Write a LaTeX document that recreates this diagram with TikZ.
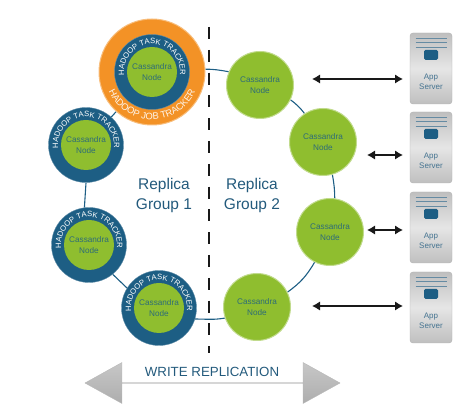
\documentclass[tikz,border=0pt]{standalone}
\usepackage{fontspec}
\setmainfont{Liberation Sans}
\usepackage{xcolor}
\usepackage{tikz}
\usetikzlibrary{arrows.meta,positioning,calc,backgrounds,decorations.text,shapes.arrows}
\definecolor{ringblue}{HTML}{1D5E84}
\definecolor{leafgreen}{HTML}{8FBE2F}
\definecolor{trackorange}{HTML}{F39226}
\definecolor{labelblue}{HTML}{235A7C}
\tikzset{
  cass/.style={circle,fill=leafgreen,minimum size=50pt,inner sep=0pt,align=center,font=\fontsize{8.2}{10.5}\selectfont,text=ringblue!85!leafgreen},
  cassr/.style={cass,draw=leafgreen!55!white,line width=1pt,minimum size=67pt},
  ring/.style={circle,fill=ringblue,draw=ringblue!70!white,minimum size=75pt,inner sep=0pt},
  jobring/.style={circle,fill=trackorange,draw=trackorange!60!white,line width=1pt,minimum size=106pt,inner sep=0pt},
  wire/.style={ringblue,line width=1.1pt},
  sync/.style={{Latex[length=8pt,width=9.5pt]}-{Latex[length=8pt,width=9.5pt]},line width=1.8pt,black!90},
  srv/.style={rectangle,rounded corners=3pt,minimum width=42pt,minimum height=71pt,inner sep=0pt,draw=black!30,top color=black!25,bottom color=black!25,middle color=black!10},
  srvlabel/.style={align=center,font=\fontsize{8}{10.5}\selectfont,text=labelblue!85!white},
  srvbar/.style={labelblue!70!white,line width=0.8pt},
  grp/.style={align=center,font=\fontsize{15.5}{20}\selectfont,text=labelblue},
}
\newcommand{\tasktext}[1]{
  \path[decorate,decoration={text along path,text align=center,
    text={|\fontsize{7.7}{9}\selectfont\color{white}|HADOOP TASK TRACKER}}]
    ($(#1)+(200:28)$) arc[start angle=200,end angle=-20,radius=28];
}

\begin{document}
\begin{tikzpicture}[x=1pt,y=1pt]
  \useasboundingbox (0,0) rectangle (474,420);

  % group 1
  \node[jobring] (jt) at (152,348){};
  \node[ring] (t1) at (152,348){};
  \node[ring] (t2) at (86,275){};
  \node[ring] (t3) at (89,175){};
  \node[ring] (t4) at (159,112){};
  \node[cass] (n1) at (t1){Cassandra\\Node};
  \node[cass] (n2) at (t2){Cassandra\\Node};
  \node[cass] (n3) at (t3){Cassandra\\Node};
  \node[cass] (n4) at (t4){Cassandra\\Node};
  \foreach \t in {t1,t2,t3,t4} {\tasktext{\t}}
  \path[decorate,decoration={text along path,text align=center,
    text={|\fontsize{9.4}{11}\selectfont\color{white!90!trackorange}|HADOOP JOB TRACKER}}]
    ($(jt)+(192:47.5)$) arc[start angle=192,end angle=348,radius=47.5];

  % group 2
  \node[cassr] (r1) at (260,335){Cassandra\\Node};
  \node[cassr] (r2) at (323,278){Cassandra\\Node};
  \node[cassr] (r3) at (330,188){Cassandra\\Node};
  \node[cassr] (r4) at (257,113){Cassandra\\Node};

  \begin{pgfonlayer}{background}
    \draw[wire] (jt)--(t2);
    \draw[wire] (t2.-90)--(t3.97);
    \draw[wire] (t3.-51)--(t4.148);
    \draw[wire] (t4.-17) to[out=0,in=190] (r4.199);
    \draw[wire] (r4.26) to[bend right=12] (r3.-117);
    \draw[wire] (r3.82) to[bend right=5] (r2.-74);
    \draw[wire] (r2.123) to[bend right=8] (r1.-26);
    \draw[wire] (jt.3) to[out=0,in=170] (r1.157);
  \end{pgfonlayer}

  \node[grp] (g1) at (164,225){Replica\\Group 1};
  \node[grp] (g2) at (252,225){Replica\\Group 2};

  \coordinate (dtop) at (209,393);
  \coordinate (dbot) at (209,67);
  \draw[line width=2.6pt,black!90,dash pattern=on 12pt off 10.8pt] (dtop)--(dbot);

  % app servers
  \foreach \i/\y/\xa/\ya in {1/351.5/312/341,2/272.5/367/265,3/192.5/367/190,4/112.5/312/114} {
    \node[srv] (s\i) at (431,\y){};
    \draw[srvbar] ([shift={(-15.5pt,-5.5pt)}]s\i.north)--([shift={(15.5pt,-5.5pt)}]s\i.north);
    \draw[srvbar] ([shift={(-15.5pt,-10pt)}]s\i.north)--([shift={(15.5pt,-10pt)}]s\i.north);
    \draw[srvbar] ([shift={(-15.5pt,-14.5pt)}]s\i.north)--([shift={(15.5pt,-14.5pt)}]s\i.north);
    \node[rectangle,rounded corners=1.5pt,fill=ringblue,minimum width=14pt,minimum height=10pt,inner sep=0pt] (k\i) at ([yshift=-22pt]s\i.north){};
    \node[srvlabel] (l\i) at ([yshift=-49pt]s\i.north){App\\Server};
    \coordinate (al\i) at (\xa,\ya);
    \coordinate (ar\i) at (403,\ya);
    \draw[sync] (al\i)--(ar\i);
  }

  % write replication
  \node[double arrow,double arrow head extend=14.5pt,double arrow tip angle=58,minimum width=41pt,minimum height=255pt,inner sep=0pt,
    top color=black!22,bottom color=black!32,draw=black!28] (wr) at (212.5,37){};
  \node[font=\fontsize{13.3}{15}\selectfont,text=labelblue] (wt) at (212,48){WRITE REPLICATION};
\end{tikzpicture}
\end{document}
